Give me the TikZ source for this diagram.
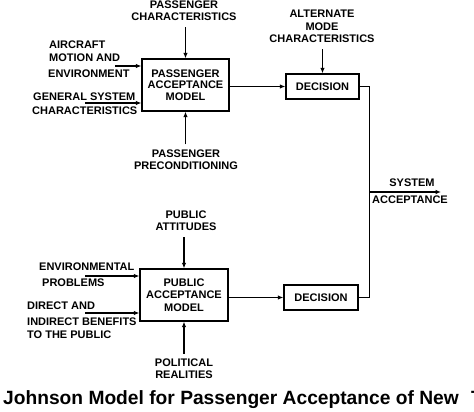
\documentclass[tikz,border=0pt]{standalone}
\usepackage{fontspec}
\setmainfont{Liberation Sans}
\usetikzlibrary{arrows.meta,calc}
\begin{document}
\begin{tikzpicture}[x=1pt,y=-1pt,
  lbl/.style={inner sep=0pt, font=\fontsize{11}{12}\selectfont\bfseries, align=center},
  lbll/.style={inner sep=0pt, font=\fontsize{11}{12}\selectfont\bfseries, anchor=west},
  box/.style={draw, line width=1.2pt, inner sep=0pt, align=center, font=\fontsize{11}{11.7}\selectfont\bfseries},
  arr/.style={line width=1.1pt, -{Latex[length=5.5pt,width=4.5pt]}},
  ln/.style={line width=1.1pt}]
\useasboundingbox (0,0) rectangle (474,412);
\clip (0,0) rectangle (474,412);

% --- upper model ---
\node[box, minimum width=87pt, minimum height=52pt] (pam) at (185.5,85) {PASSENGER\\ACCEPTANCE\\MODEL};
\node[box, minimum width=73pt, minimum height=25pt] (dec1) at (322.5,86.5) {DECISION};

\node[lbl] (pc) at (184,11) {PASSENGER\\CHARACTERISTICS};
\node[lbll] (ac1) at (49,45) {AIRCRAFT};
\node[lbll] (ac2) at (49,58) {MOTION AND};
\node[lbll] (ac3) at (48,74) {ENVIRONMENT};
\node[lbll] (gs1) at (33,97) {GENERAL SYSTEM};
\node[lbll] (gs2) at (32,111) {CHARACTERISTICS};
\node[lbl] (pp) at (186,159.5) {PASSENGER\\PRECONDITIONING};
\node[lbl, font=\fontsize{11}{12.5}\selectfont\bfseries] (am) at (322,26.5) {ALTERNATE\\MODE\\CHARACTERISTICS};

\coordinate (a1) at (115,66);
\coordinate (g1) at (85,103);
\draw[arr, shorten <=6pt] (pc.south -| pam.north) -- (pam.north);
\draw[arr] (a1) -- (a1 -| pam.west);
\draw[arr] (g1) -- (g1 -| pam.west);
\draw[arr, shorten <=5pt] (pp.north -| pam.south) -- (pam.south);
\draw[arr, shorten <=6pt] (am.south -| dec1.north) -- (dec1.north);
\draw[arr] (pam.east |- dec1.west) -- (dec1.west);

% --- lower model ---
\node[box, minimum width=88pt, minimum height=52pt, font=\fontsize{11}{12.5}\selectfont\bfseries] (pub) at (184,295) {PUBLIC\\ACCEPTANCE\\MODEL};
\node[box, minimum width=74pt, minimum height=25pt] (dec2) at (321,297.5) {DECISION};

\node[lbl] (pa) at (186,221) {PUBLIC\\ATTITUDES};
\node[lbll] (ep1) at (39,267) {ENVIRONMENTAL};
\node[lbll] (ep2) at (42,283) {PROBLEMS};
\node[lbll] (db1) at (27,306) {DIRECT AND};
\node[lbll] (db2) at (27,322) {INDIRECT BENEFITS};
\node[lbll] (db3) at (27,335) {TO THE PUBLIC};
\node[lbl] (pr) at (184,369) {POLITICAL\\REALITIES};

\coordinate (e1) at (85,276);
\coordinate (d1) at (85,313);
\draw[arr, shorten <=6pt] (pa.south -| pub.north) -- (pub.north);
\draw[arr] (e1) -- (e1 -| pub.west);
\draw[arr] (d1) -- (d1 -| pub.west);
\draw[arr, shorten <=5pt] (pr.north -| pub.south) -- (pub.south);
\draw[arr] (pub.east |- dec2.west) -- (dec2.west);

% --- system acceptance ---
\coordinate (j) at (369.5,192);
\coordinate (se) at (441,192);
\draw[ln] (dec1.east) -| (j) |- (dec2.east);
\draw[arr] (j) -- (se);
\node[lbl] (sa1) at (412,183) {SYSTEM};
\node[lbl] (sa2) at (410,200) {ACCEPTANCE};

% --- caption ---
\node[inner sep=0pt, anchor=base west, font=\fontsize{19.2}{22}\selectfont\bfseries] (cap) at (3,404) {Johnson Model for Passenger Acceptance of New};
\node[inner sep=0pt, anchor=base west, font=\fontsize{19.2}{22}\selectfont\bfseries] (capt) at (471,404) {T};
\end{tikzpicture}
\end{document}
